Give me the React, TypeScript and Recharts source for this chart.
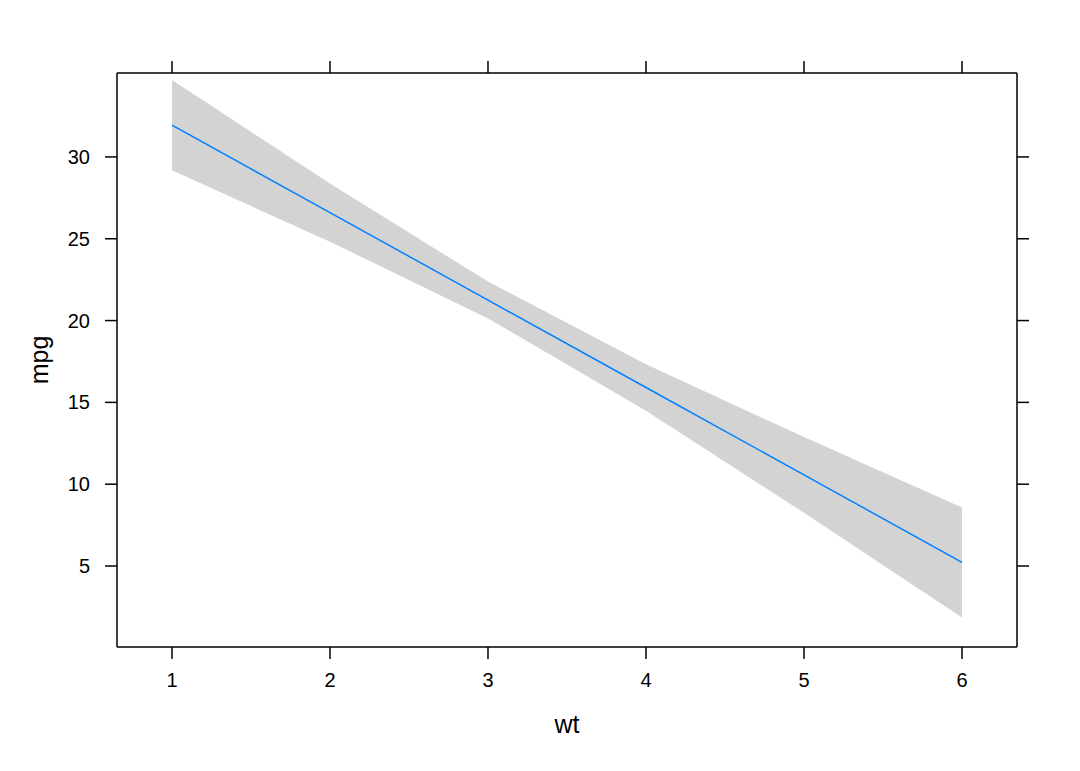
import React from "react"
import {
  ComposedChart,
  Area,
  Line,
  XAxis,
  YAxis,
} from "recharts"

// Values
const wtValues = [1, 2, 3, 4, 5, 6]
const fitValues = [31.94, 26.6, 21.25, 15.91, 10.57, 5.22]
const lowerValues = [29.18, 24.82, 20.13, 14.49, 8.25, 1.86]
const upperValues = [34.7, 28.37, 22.38, 17.33, 12.88, 8.58]

const xTicks = [1, 2, 3, 4, 5, 6]
const yTicks = [5, 10, 15, 20, 25, 30]

const xDomain = [0.652, 6.348]
const yDomain = [0.05, 35.13]

const data = wtValues.map((wt, i) => ({
  wt,
  fit: fitValues[i],
  band: [lowerValues[i], upperValues[i]],
}))

const font = "'Liberation Sans', Arial, sans-serif"
const boxColor = "#000"
const lineColor = "#0080ff"
const bandColor = "#d3d3d3"
const tickStyle = { fill: "#000", fontSize: 20, fontFamily: font }
const labelStyle = { fill: "#000", fontSize: 25, fontFamily: font }
const blank = () => ""

const App: React.FC = () => {
  return (
    <div style={{ position: "absolute", left: 0, top: 0, width: 1080, height: 771, background: "#fff" }}>
      <ComposedChart
        width={1080}
        height={771}
        data={data}
        margin={{ top: 0, right: 0, left: 0, bottom: 0 }}
      >
        <XAxis
          dataKey="wt"
          type="number"
          domain={xDomain}
          ticks={xTicks}
          allowDataOverflow
          height={124}
          tick={tickStyle}
          tickSize={12}
          tickMargin={14}
          axisLine={{ stroke: boxColor, strokeWidth: 1.5 }}
          tickLine={{ stroke: boxColor, strokeWidth: 1.5 }}
          label={{
            value: "wt",
            position: "insideTop",
            offset: 68,
            style: labelStyle,
          }}
        />
        <XAxis
          xAxisId="top"
          orientation="top"
          dataKey="wt"
          type="number"
          domain={xDomain}
          ticks={xTicks}
          allowDataOverflow
          height={73}
          tick={tickStyle}
          tickFormatter={blank}
          tickSize={12}
          axisLine={{ stroke: boxColor, strokeWidth: 1.5 }}
          tickLine={{ stroke: boxColor, strokeWidth: 1.5 }}
        />
        <YAxis
          type="number"
          domain={yDomain}
          ticks={yTicks}
          allowDataOverflow
          width={117}
          tick={tickStyle}
          tickSize={12}
          tickMargin={15}
          axisLine={{ stroke: boxColor, strokeWidth: 1.5 }}
          tickLine={{ stroke: boxColor, strokeWidth: 1.5 }}
          label={{
            value: "mpg",
            angle: -90,
            position: "insideLeft",
            offset: 39,
            style: { ...labelStyle, textAnchor: "middle" },
          }}
        />
        <YAxis
          yAxisId="right"
          orientation="right"
          type="number"
          domain={yDomain}
          ticks={yTicks}
          allowDataOverflow
          width={63}
          tick={tickStyle}
          tickFormatter={blank}
          tickSize={12}
          axisLine={{ stroke: boxColor, strokeWidth: 1.5 }}
          tickLine={{ stroke: boxColor, strokeWidth: 1.5 }}
        />
        <Area
          dataKey="band"
          type="linear"
          fill={bandColor}
          fillOpacity={1}
          stroke="none"
          isAnimationActive={false}
        />
        <Line
          dataKey="fit"
          type="linear"
          stroke={lineColor}
          strokeWidth={1.5}
          dot={false}
          activeDot={false}
          isAnimationActive={false}
        />
      </ComposedChart>
    </div>
  )
}

export default App
